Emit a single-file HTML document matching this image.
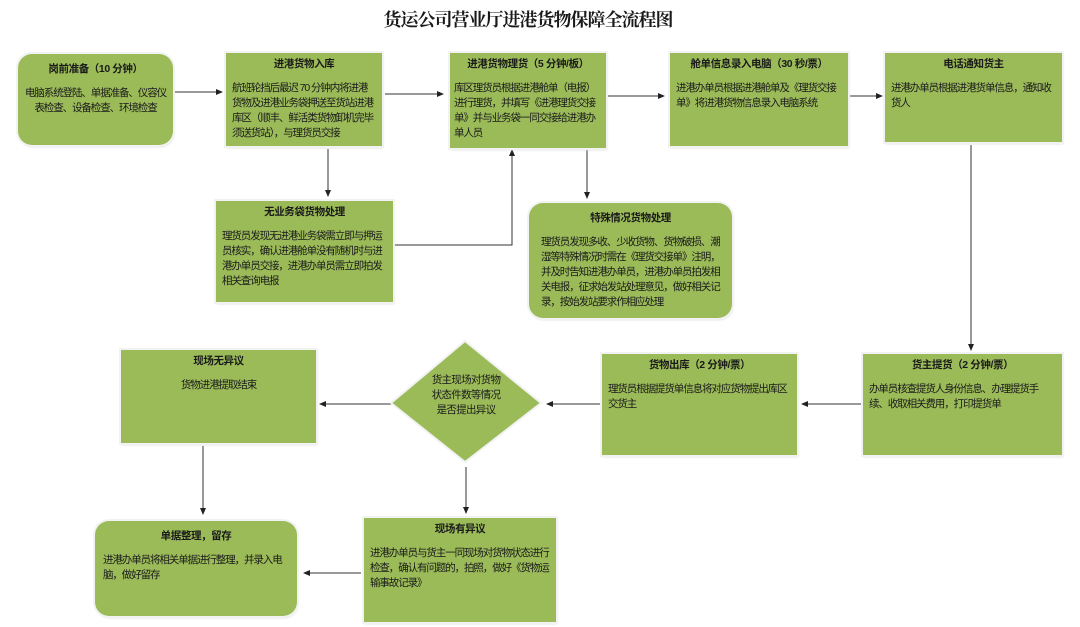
<!DOCTYPE html>
<html><head><meta charset="utf-8"><style>
body{margin:0;width:1080px;height:627px;background:#fff;position:relative;overflow:hidden;font-family:"Liberation Sans","Noto Sans CJK SC",sans-serif;color:#1a1a1a}
.b{position:absolute;background:#9bbb59;box-shadow:0 0 0 2px #f2f2f2,1px 2px 2px #d8d8d8;box-sizing:border-box;padding:4px 6px;font-size:10.5px;line-height:15px;letter-spacing:-1.1px}
.r{border-radius:14px}
.t{font-weight:bold;text-align:center;margin-bottom:9px;font-size:10.5px;letter-spacing:-0.4px}
.title{position:absolute;left:378px;top:6px;width:300px;text-align:center;font-family:"Liberation Serif","Noto Serif CJK SC",serif;font-weight:bold;font-size:18px;letter-spacing:-1px}
svg{position:absolute;left:0;top:0}
</style></head><body>
<div class="title">货运公司营业厅进港货物保障全流程图</div>
<svg width="1080" height="627">
<defs><marker id="a" markerWidth="7" markerHeight="6" refX="6" refY="3" orient="auto"><path d="M0,0L7,3L0,6z" fill="#222"/></marker></defs>
<g stroke="#333" stroke-width="1" fill="none" marker-end="url(#a)">
<path d="M174,92H222"/><path d="M385,94H443"/><path d="M607,96H664"/><path d="M849,96H882"/>
<path d="M328,149V196"/><path d="M394,245H512V150"/><path d="M587,149V198"/>
<path d="M971,145V350"/><path d="M862,404H802"/><path d="M601,404H547"/><path d="M392,404H320"/>
<path d="M203,446V514"/><path d="M466,467V513"/><path d="M361,573H304"/>
</g>
<polygon points="465,341 541,403 465,462 391,403" fill="#9bbb59" stroke="#f2f2f2" stroke-width="2"/>
</svg>
<div style="position:absolute;left:427px;top:373px;width:78px;text-align:center;font-size:10.5px;line-height:15px;letter-spacing:-0.7px">货主现场对货物状态件数等情况是否提出异议</div>
<div class="b r" style="left:18px;top:54px;width:155px;height:91px;padding-top:8px"><div class="t">岗前准备（10 分钟）</div><div style="text-align:center">电脑系统登陆、单据准备、仪容仪表检查、设备检查、环境检查</div></div>
<div class="b" style="left:226px;top:53px;width:156px;height:93px"><div class="t">进港货物入库</div>航班轮挡后最迟 70 分钟内将进港货物及进港业务袋押送至货站进港库区（顺丰、鲜活类货物卸机完毕须送货站），与理货员交接</div>
<div class="b" style="left:450px;top:53px;width:156px;height:95px;padding:4px 4px"><div class="t">进港货物理货（5 分钟/板）</div>库区理货员根据进港舱单（电报）进行理货，并填写《进港理货交接单》并与业务袋一同交接给进港办单人员</div>
<div class="b" style="left:670px;top:53px;width:178px;height:93px"><div class="t">舱单信息录入电脑（30 秒/票）</div>进港办单员根据进港舱单及《理货交接单》将进港货物信息录入电脑系统</div>
<div class="b" style="left:885px;top:53px;width:177px;height:89px"><div class="t">电话通知货主</div>进港办单员根据进港货单信息，通知收货人</div>
<div class="b" style="left:216px;top:201px;width:177px;height:101px"><div class="t">无业务袋货物处理</div>理货员发现无进港业务袋需立即与押运员核实，确认进港舱单没有随机时与进港办单员交接，进港办单员需立即拍发相关查询电报</div>
<div class="b r" style="left:529px;top:203px;width:203px;height:115px;padding:8px 12px"><div class="t">特殊情况货物处理</div>理货员发现多收、少收货物、货物破损、潮湿等特殊情况时需在《理货交接单》注明，并及时告知进港办单员，进港办单员拍发相关电报，征求始发站处理意见，做好相关记录，按始发站要求作相应处理</div>
<div class="b" style="left:863px;top:354px;width:199px;height:101px"><div class="t">货主提货（2 分钟/票）</div>办单员核查提货人身份信息、办理提货手续、收取相关费用，打印提货单</div>
<div class="b" style="left:602px;top:354px;width:195px;height:101px"><div class="t">货物出库（2 分钟/票）</div>理货员根据提货单信息将对应货物提出库区交货主</div>
<div class="b" style="left:121px;top:350px;width:195px;height:93px"><div class="t">现场无异议</div><div style="text-align:center">货物进港提取结束</div></div>
<div class="b" style="left:364px;top:518px;width:192px;height:104px"><div class="t">现场有异议</div>进港办单员与货主一同现场对货物状态进行检查，确认有问题的，拍照，做好《货物运输事故记录》</div>
<div class="b r" style="left:95px;top:521px;width:202px;height:95px;padding:8px 8px"><div class="t">单据整理，留存</div>进港办单员将相关单据进行整理，并录入电脑，做好留存</div>
</body></html>
